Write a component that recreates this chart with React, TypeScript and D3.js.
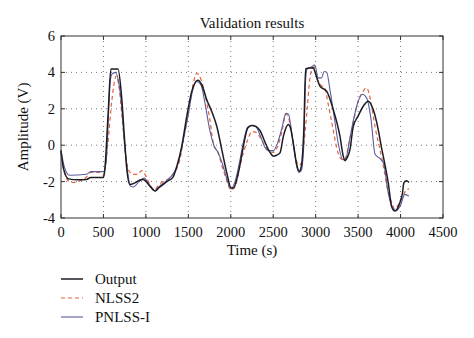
import React from "react";
import * as d3 from "d3";

const xTicks = [0, 500, 1000, 1500, 2000, 2500, 3000, 3500, 4000, 4500];
const yTicks = [-4, -2, 0, 2, 4, 6];
const seriesNames = ["Output", "NLSS2", "PNLSS-I"];

const outputData: [number, number][] = [
  [0, -0.3], [30, -1.3], [90, -1.85], [200, -1.9], [300, -1.88], [350, -1.78], [500, -1.78],
  [515, -1.4], [556, 1.8], [588, 4.18], [672, 4.18], [713, 2.7], [752, 0.1], [772, -1.15],
  [811, -2.16], [870, -2.07], [940, -1.9], [968, -1.88], [1047, -2.25], [1110, -2.52],
  [1150, -2.35], [1247, -2.0], [1320, -1.75], [1365, -1.15], [1423, -0.05], [1482, 1.6],
  [1541, 2.97], [1611, 3.57], [1660, 3.3], [1717, 2.5], [1780, 1.8], [1835, 1.04],
  [1894, -0.24], [1953, -1.52], [2004, -2.35], [2030, -2.35], [2090, -1.5], [2149, -0.05],
  [2200, 0.95], [2250, 1.08], [2300, 1.02], [2345, 0.8], [2400, 0.2], [2443, -0.24],
  [2502, -0.6], [2540, -0.55], [2580, -0.42], [2620, 0.5], [2678, 1.14], [2700, 1.0],
  [2740, 0.0], [2776, -1.06], [2807, -1.43], [2830, -1.2], [2862, 1.04], [2882, 4.2],
  [2972, 4.25], [3000, 3.9], [3051, 3.24], [3129, 2.97], [3207, 1.96], [3286, 0.5],
  [3325, -0.6], [3345, -0.85], [3370, -0.7], [3404, -0.24], [3443, 1.04], [3500, 1.6],
  [3560, 2.14], [3619, 2.42], [3678, 1.96], [3737, 0.86], [3776, -0.15], [3796, -0.6],
  [3855, -2.07], [3894, -3.35], [3933, -3.62], [3984, -3.26], [4023, -2.62], [4039, -2.07],
  [4070, -1.96], [4100, -2.05]
];

const nlss2Data: [number, number][] = [
  [0, -0.3], [40, -1.5], [100, -2.0], [150, -2.05], [250, -1.9], [300, -1.75], [350, -1.5],
  [450, -1.5], [500, -1.65], [550, 0.0], [600, 2.5], [650, 3.8], [680, 3.3], [720, 1.5],
  [760, -0.5], [800, -1.4], [850, -1.6], [900, -1.6], [950, -1.4], [1000, -1.7],
  [1050, -2.2], [1100, -2.45], [1150, -2.2], [1200, -2.0], [1250, -1.9], [1300, -1.7],
  [1400, -0.8], [1450, 0.5], [1500, 1.7], [1550, 3.2], [1600, 3.95], [1650, 3.6],
  [1700, 2.7], [1750, 1.5], [1800, 0.0], [1850, -0.4], [1900, -1.2], [1950, -1.9],
  [2000, -2.45], [2050, -2.3], [2100, -1.3], [2150, -0.4], [2200, 0.3], [2250, 0.75],
  [2300, 0.7], [2350, 0.4], [2400, 0.0], [2450, -0.3], [2500, -0.4], [2550, -0.1],
  [2600, 0.7], [2650, 1.7], [2680, 1.5], [2720, 0.6], [2760, -0.6], [2800, -1.1],
  [2830, -1.0], [2860, 0.0], [2900, 2.0], [2930, 3.6], [2960, 4.2], [2990, 4.3],
  [3020, 3.6], [3060, 3.3], [3100, 3.2], [3150, 2.2], [3200, 1.0], [3250, -0.2],
  [3300, -0.75], [3340, -0.8], [3400, 0.3], [3450, 1.4], [3500, 2.4], [3550, 2.9],
  [3600, 3.15], [3650, 2.4], [3700, 1.0], [3760, -0.3], [3800, -1.2], [3850, -2.5],
  [3900, -3.2], [3930, -3.5], [3970, -3.3], [4000, -3.0], [4030, -2.8], [4060, -2.5],
  [4100, -2.4]
];

const pnlssData: [number, number][] = [
  [0, -0.3], [40, -1.2], [100, -1.65], [300, -1.6], [350, -1.45], [500, -1.45],
  [530, -1.0], [580, 3.5], [600, 3.9], [640, 4.0], [700, 2.8], [760, -0.5], [820, -2.25],
  [850, -2.3], [920, -2.0], [980, -1.8], [1030, -2.1], [1100, -2.5], [1150, -2.3],
  [1200, -2.1], [1300, -1.7], [1380, -1.0], [1450, 0.5], [1500, 1.7], [1550, 3.0],
  [1600, 3.5], [1650, 3.3], [1700, 2.2], [1750, 0.9], [1800, 0.0], [1850, -0.4],
  [1900, -1.0], [1950, -1.8], [2000, -2.4], [2050, -2.0], [2100, -1.0], [2150, 0.2],
  [2200, 1.0], [2250, 1.1], [2300, 1.0], [2350, 0.5], [2400, -0.1], [2450, -0.3],
  [2500, -0.3], [2550, 0.1], [2600, 0.9], [2650, 1.75], [2680, 1.7], [2720, 0.6],
  [2760, -0.7], [2800, -1.5], [2830, -1.4], [2860, 0.0], [2880, 3.5], [2900, 4.2],
  [2950, 4.3], [2990, 4.4], [3030, 3.7], [3070, 3.7], [3100, 4.05], [3130, 4.0],
  [3170, 3.0], [3220, 1.5], [3270, 0.0], [3320, -0.8], [3350, -0.8], [3400, 0.3],
  [3450, 1.5], [3500, 2.4], [3550, 2.8], [3600, 2.6], [3650, 1.5], [3700, -0.5],
  [3750, -0.7], [3800, -1.0], [3850, -2.5], [3900, -3.4], [3950, -3.6], [4000, -3.3],
  [4050, -2.7], [4100, -2.8]
];

const W = 474;
const H = 338;
const M = { left: 61, right: 443, top: 36, bottom: 218 };
const FONT = "'Liberation Serif', 'DejaVu Serif', serif";

export default function App() {
  const x = d3.scaleLinear().domain([0, 4500]).range([M.left, M.right]);
  const y = d3.scaleLinear().domain([-4, 6]).range([M.bottom, M.top]);
  const line = d3
    .line<[number, number]>()
    .x((d) => x(d[0]))
    .y((d) => y(d[1]))
    .curve(d3.curveMonotoneX);

  const series = [
    { name: seriesNames[0], data: outputData, color: "#1c1c24", width: 1.5, dash: "" },
    { name: seriesNames[1], data: nlss2Data, color: "#e8603a", width: 1.2, dash: "4,3" },
    { name: seriesNames[2], data: pnlssData, color: "#5a5c9e", width: 1.1, dash: "" },
  ];
  const drawOrder = [series[1], series[2], series[0]];

  return (
    <svg
      width={W}
      height={H}
      style={{ position: "absolute", left: 0, top: 0, background: "#fff" }}
      fontFamily={FONT}
    >
      <rect x={0} y={0} width={W} height={H} fill="#fff" />
      {xTicks.slice(1, -1).map((t) => (
        <line
          key={"gx" + t}
          x1={x(t)}
          x2={x(t)}
          y1={M.top}
          y2={M.bottom}
          stroke="#777"
          strokeWidth={1}
          strokeDasharray="1,4"
        />
      ))}
      {yTicks.slice(1, -1).map((t) => (
        <line
          key={"gy" + t}
          x1={M.left}
          x2={M.right}
          y1={y(t)}
          y2={y(t)}
          stroke="#777"
          strokeWidth={1}
          strokeDasharray="1,4"
        />
      ))}
      {drawOrder.map((s) => (
        <path
          key={s.name}
          d={line(s.data) || ""}
          fill="none"
          stroke={s.color}
          strokeWidth={s.width}
          strokeDasharray={s.dash}
          strokeLinejoin="round"
        />
      ))}
      <rect
        x={M.left}
        y={M.top}
        width={M.right - M.left}
        height={M.bottom - M.top}
        fill="none"
        stroke="#333"
        strokeWidth={1}
      />
      {xTicks.map((t) => (
        <g key={"tx" + t}>
          <line x1={x(t)} x2={x(t)} y1={M.bottom} y2={M.bottom - 4} stroke="#333" />
          <line x1={x(t)} x2={x(t)} y1={M.top} y2={M.top + 4} stroke="#333" />
          <text x={x(t)} y={237} textAnchor="middle" fontSize={14.5} fill="#111">
            {t}
          </text>
        </g>
      ))}
      {yTicks.map((t) => (
        <g key={"ty" + t}>
          <line x1={M.left} x2={M.left + 4} y1={y(t)} y2={y(t)} stroke="#333" />
          <line x1={M.right} x2={M.right - 4} y1={y(t)} y2={y(t)} stroke="#333" />
          <text x={55} y={y(t) + 5} textAnchor="end" fontSize={14.5} fill="#111">
            {t}
          </text>
        </g>
      ))}
      <text x={(M.left + M.right) / 2} y={28} textAnchor="middle" fontSize={15} fill="#111">
        Validation results
      </text>
      <text x={(M.left + M.right) / 2} y={255} textAnchor="middle" fontSize={15} fill="#111">
        Time (s)
      </text>
      <text
        transform={`translate(28,${(M.top + M.bottom) / 2}) rotate(-90)`}
        textAnchor="middle"
        fontSize={15}
        fill="#111"
      >
        Amplitude (V)
      </text>
      {series.map((s, i) => {
        const ly = 279 + i * 19;
        return (
          <g key={"lg" + s.name}>
            <line
              x1={61}
              x2={83}
              y1={ly}
              y2={ly}
              stroke={s.color}
              strokeWidth={s.width}
              strokeDasharray={s.dash}
            />
            <text x={95} y={ly + 5} fontSize={15} fill="#111">
              {s.name}
            </text>
          </g>
        );
      })}
    </svg>
  );
}
